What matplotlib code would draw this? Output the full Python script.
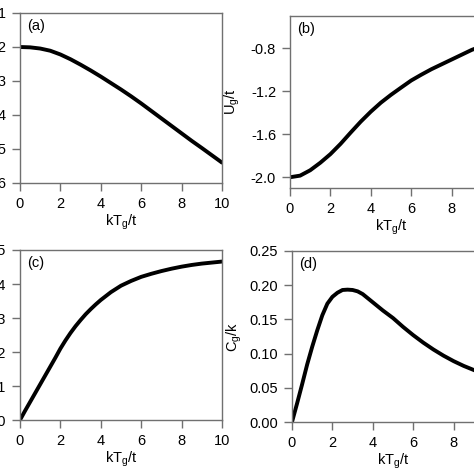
import matplotlib
matplotlib.use("Agg")
import matplotlib.pyplot as plt

# ==========================================================
# DATA
# ==========================================================

kT = [0, 0.5, 1, 1.5, 2, 2.5, 3, 3.5, 4, 4.5, 5,
      5.5, 6, 6.5, 7, 7.5, 8, 8.5, 9, 9.5, 10]

F_g = [-2.00, -2.01, -2.045, -2.11, -2.22, -2.36, -2.52, -2.69, -2.87, -3.06,
       -3.25, -3.45, -3.66, -3.88, -4.10, -4.32, -4.54, -4.76, -4.97, -5.185,
       -5.40]

U_g = [-2.00, -1.985, -1.935, -1.865, -1.785, -1.69, -1.585, -1.483, -1.39,
       -1.306, -1.233, -1.166, -1.10, -1.046, -0.995, -0.950, -0.905, -0.860,
       -0.815, -0.780, -0.745]

kT_fine = [0, 0.25, 0.5, 0.75, 1, 1.25, 1.5, 1.75, 2, 2.25, 2.5, 2.75, 3,
           3.25, 3.5, 3.75, 4, 4.5, 5, 5.5, 6, 6.5, 7, 7.5, 8, 8.5, 9, 9.5, 10]

S_g = [0.0, 0.027, 0.053, 0.079, 0.105, 0.131, 0.157, 0.183, 0.210, 0.234,
       0.256, 0.276, 0.294, 0.311, 0.326, 0.340, 0.353, 0.376, 0.395, 0.409,
       0.421, 0.430, 0.438, 0.445, 0.451, 0.456, 0.460, 0.463, 0.466]

C_g = [0.0, 0.027, 0.055, 0.084, 0.110, 0.134, 0.156, 0.173, 0.183, 0.189,
       0.193, 0.1935, 0.193, 0.191, 0.187, 0.181, 0.175, 0.163, 0.152, 0.139,
       0.127, 0.116, 0.106, 0.097, 0.089, 0.082, 0.076, 0.070, 0.065]

x_ticks = [0, 2, 4, 6, 8, 10]

# ==========================================================
# STYLE
# ==========================================================

plt.rcParams["font.family"] = ["Liberation Sans", "DejaVu Sans"]
plt.rcParams["font.size"] = 10.5
plt.rcParams["mathtext.default"] = "regular"
plt.rcParams["axes.unicode_minus"] = False

SPINE = "#707070"
FS = 10.5

fig = plt.figure(figsize=(4.74, 4.74), dpi=100)

W = 202 / 474

panels = [
    # rect, x, y, ylim, yticks, fmt, ylabel, tag
    ([20 / 474, 1 - 183 / 474, W, 170 / 474], kT, F_g, (-6, -1),
     [-6, -5, -4, -3, -2, -1], "{:.0f}", "F$_g$/t", "(a)"),
    ([290 / 474, 1 - 188 / 474, W, 172 / 474], kT, U_g, (-2.1, -0.5),
     [-2.0, -1.6, -1.2, -0.8], "{:.1f}", "U$_g$/t", "(b)"),
    ([20 / 474, 1 - 420 / 474, W, 170 / 474], kT_fine, S_g, (0, 0.5),
     [0, 0.1, 0.2, 0.3, 0.4, 0.5], "{:.1f}", "S$_g$/k", "(c)"),
    ([292 / 474, 1 - 422 / 474, W, 171 / 474], kT_fine, C_g, (0, 0.25),
     [0, 0.05, 0.10, 0.15, 0.20, 0.25], "{:.2f}", "C$_g$/k", "(d)"),
]

for rect, x, y, ylim, yticks, fmt, ylabel, tag in panels:

    ax = fig.add_axes(rect)

    ax.plot(
        x,
        y,
        color="black",
        linewidth=2.8,
        solid_capstyle="round",
        solid_joinstyle="round"
    )

    ax.set_xlim(0, 10)
    ax.set_ylim(*ylim)

    ax.set_xticks(x_ticks)
    ax.set_xticklabels([str(t) for t in x_ticks])
    ax.set_yticks(yticks)
    ax.set_yticklabels([fmt.format(t) for t in yticks])

    for s in ax.spines.values():
        s.set_color(SPINE)
        s.set_linewidth(1.0)

    ax.tick_params(
        direction="out",
        length=5.5,
        width=1.0,
        color=SPINE,
        labelsize=FS,
        pad=4.5
    )
    ax.tick_params(axis="x", pad=4.5)

    ax.set_xlabel("kT$_g$/t", fontsize=FS, labelpad=1)
    ax.set_ylabel(ylabel, fontsize=FS)
    ax.yaxis.set_label_coords(-0.24, 0.5)

    ax.text(0.035, 0.925, tag, transform=ax.transAxes,
            fontsize=FS, ha="left", va="center")

fig.savefig("out.png", dpi=100)
